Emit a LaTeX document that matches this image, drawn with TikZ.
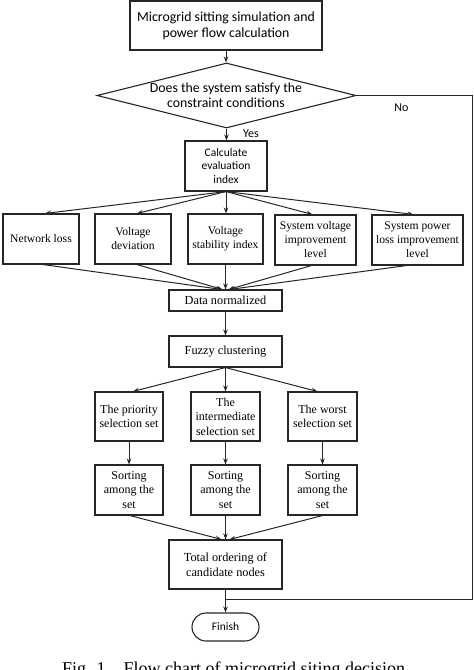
\documentclass[tikz,border=0pt]{standalone}
\usepackage{fontspec}
\setmainfont{Liberation Serif}
\newfontfamily\calfont{Carlito}
\usetikzlibrary{shapes.geometric,arrows.meta,calc}
\begin{document}
\begin{tikzpicture}[x=1pt,y=-1pt,
  line/.style={draw=black!85, line width=1pt},
  arr/.style={line, -{Stealth[length=6pt,width=4.5pt]}},
  box/.style={draw=black!85, line width=1.1pt, rectangle, inner sep=0pt, align=center},
  sbox/.style={box, font=\calfont\fontsize{13.8}{16}\selectfont},
  rbox/.style={box, font=\fontsize{11.6}{14}\selectfont, minimum height=50pt},
  lbox/.style={box, font=\fontsize{12}{14.5}\selectfont, minimum height=49pt, minimum width=69pt},
  mbox/.style={box, font=\fontsize{12.3}{15}\selectfont, minimum width=113pt},
  dia/.style={diamond, draw=black!85, line width=1.1pt, inner sep=0pt, minimum width=259pt, minimum height=65pt},
  lab/.style={font=\calfont\fontsize{12}{14}\selectfont, inner sep=0pt}
]
\useasboundingbox (0,0) rectangle (474,670);

% nodes
\node[sbox, minimum width=192pt, minimum height=49pt] (top) at (226,25.5) {Microgrid sitting simulation and\\power flow calculation};
\node[dia] (d) at (226.5,95.5) {};
\node[font=\calfont\fontsize{13.8}{15.5}\selectfont, align=center, inner sep=0pt] (dt) at (226,95.5) {Does the system satisfy the\\constraint conditions};
\node[box, font=\calfont\fontsize{11.5}{13.5}\selectfont, minimum width=82pt, minimum height=50pt] (calc) at (226,166) {Calculate\\evaluation\\index};

\node[rbox, minimum width=76pt] (b1) at (41,239) {Network loss};
\node[rbox, minimum width=76pt] (b2) at (133,239) {Voltage\\deviation};
\node[rbox, minimum width=75pt] (b3) at (225.5,239) {Voltage\\stability index};
\node[rbox, minimum width=81pt] (b4) at (315.5,240) {System voltage\\improvement\\level};
\node[rbox, minimum width=91pt] (b5) at (417.5,240) {System power\\loss improvement\\level};

\node[mbox, minimum height=21pt] (data) at (225.5,300.5) {Data normalized};
\node[mbox, minimum height=31pt] (fuzzy) at (225.5,351.5) {Fuzzy clustering};

\node[lbox, minimum width=68pt] (s1) at (129,416.5) {The priority\\selection set};
\node[lbox] (s2) at (225.5,416.5) {The\\intermediate\\selection set};
\node[lbox] (s3) at (322.5,416.5) {The worst\\selection set};

\node[lbox, minimum width=68pt, minimum height=50pt] (o1) at (129,490) {Sorting\\among the\\set};
\node[lbox, minimum height=50pt] (o2) at (225.5,490) {Sorting\\among the\\set};
\node[lbox, minimum height=50pt] (o3) at (322.5,490) {Sorting\\among the\\set};

\node[mbox, minimum height=49pt] (total) at (225.5,564.5) {Total ordering of\\candidate nodes};
\node[box, rounded corners=14pt, minimum width=67pt, minimum height=28pt, font=\calfont\fontsize{11.5}{13}\selectfont] (fin) at (225.5,627) {Finish};

\node[lab] (yes) at (251,134) {Yes};
\node[lab] (no) at (401.5,108) {No};

\node[anchor=base west, inner sep=0pt, font=\fontsize{18}{20}\selectfont] (cap) at (62,674) {Fig. 1\quad Flow chart of microgrid siting decision};

% connectors
\draw[arr] (top.south) -- (top.south |- d.north);
\draw[arr] (d.south) -- (d.south |- calc.north);

\draw[arr] (calc.south) -- ($(b1.north)+(4,0)$);
\draw[arr] (calc.south) -- ($(b2.north)+(4,0)$);
\draw[arr] (calc.south) -- (calc.south |- b3.north);
\draw[arr] (calc.south) -- ($(b4.north)+(-3,0)$);
\draw[arr] (calc.south) -- ($(b5.north)+(-4,0)$);

\draw[arr] ($(b1.south)+(2,0)$) -- ($(data.north)+(-4,0)$);
\draw[arr] ($(b2.south)+(4,0)$) -- ($(data.north)+(-3,0)$);
\draw[arr] (b3.south -| data.north) -- (data.north);
\draw[arr] ($(b4.south)+(-4,0)$) -- ($(data.north)+(3,0)$);
\draw[arr] ($(b5.south)+(-11,0)$) -- ($(data.north)+(4,0)$);

\draw[arr] (data.south) -- (fuzzy.north);

\draw[arr] (fuzzy.south) -- ($(s1.north)+(4,0)$);
\draw[arr] (fuzzy.south) -- (s2.north);
\draw[arr] (fuzzy.south) -- ($(s3.north)+(-5,0)$);

\draw[arr] (s1.south) -- (o1.north);
\draw[arr] (s2.south) -- (o2.north);
\draw[arr] (s3.south) -- (o3.north);

\draw[arr] ($(o1.south)+(1,0)$) -- ($(total.north)+(-4,0)$);
\draw[arr] (o2.south) -- (total.north);
\draw[arr] (o3.south) -- ($(total.north)+(4,0)$);

\draw[arr] (total.south) -- (fin.north);

\coordinate (nr) at (472.5,95.5);
\coordinate (nc) at (472.5,599);
\draw[line] (d.east) -- (nr) -- (nc) -- (nc -| fin.north);
\end{tikzpicture}
\end{document}
